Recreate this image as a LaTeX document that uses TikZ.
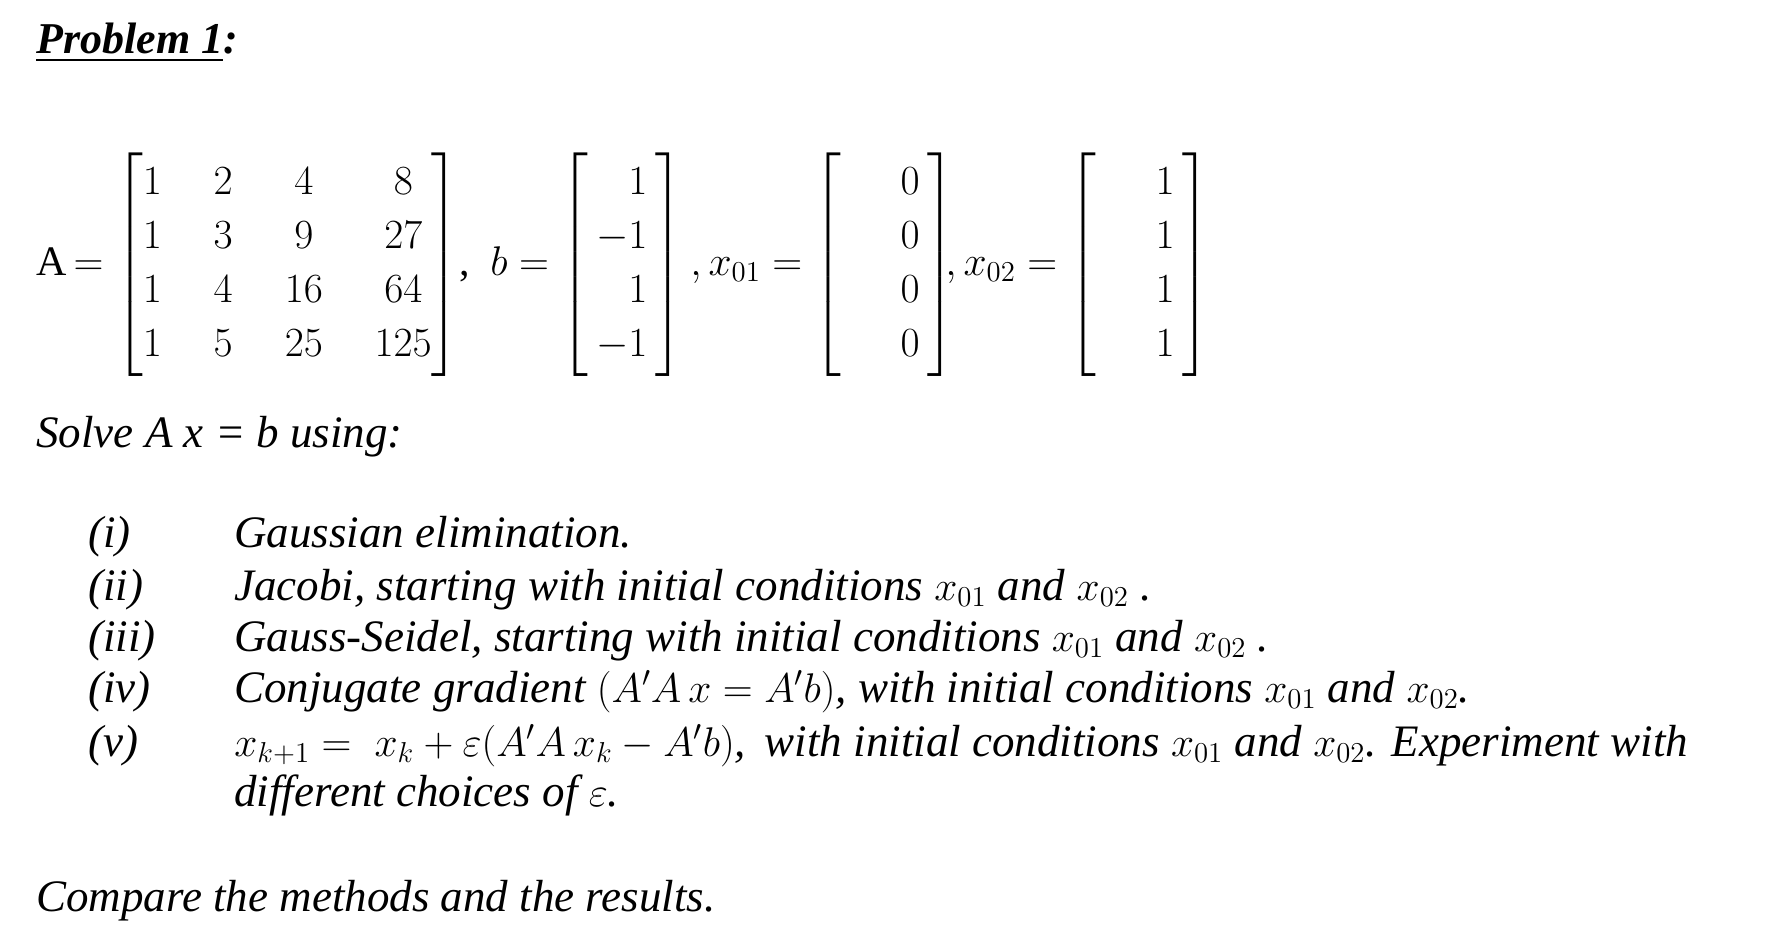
\documentclass[tikz,border=0pt]{standalone}
\usepackage{amsmath}
\usepackage{fontspec}
\setmainfont{Liberation Serif}
\begin{document}
\begin{tikzpicture}[x=0.5pt,y=-0.5pt,
  txt/.style={anchor=base west,inner sep=0pt,font=\fontsize{22.5}{26}\selectfont\itshape},
  mat/.style={anchor=center,inner sep=0pt,font=\fontsize{21}{25}\selectfont}]
\useasboundingbox (0,0) rectangle (1766,942);
\renewcommand\arraystretch{1.08}
\node[txt,font=\fontsize{22}{26}\selectfont\bfseries\itshape] (t) at (36,54) {\underline{Problem 1}:};
\node[mat,anchor=west] (A) at (36,265) {A\,$=\setlength\arraycolsep{13pt}\begin{bmatrix}1&2&4&8\\1&3&9&27\\1&4&16&64\\1&5&25&125\end{bmatrix}$,};
\node[mat,anchor=west] (b) at (490,265) {$b=\setlength\arraycolsep{4pt}\left[\begin{array}{r}1\\-1\\1\\-1\end{array}\right]$};
\node[mat,anchor=west] (x1) at (690,265) {$,x_{01}=\setlength\arraycolsep{4pt}\left[\begin{array}{r}\hphantom{-1}0\\0\\0\\0\end{array}\right]$};
\node[mat,anchor=west] (x2) at (945,265) {$,x_{02}=\setlength\arraycolsep{4pt}\left[\begin{array}{r}\hphantom{-1}1\\1\\1\\1\end{array}\right]$};
\node[txt] (s) at (36,447) {Solve A x = b using:};
\node[txt] (l1) at (88,547) {(i)};
\node[txt] (l2) at (88,600) {(ii)};
\node[txt] (l3) at (88,651) {(iii)};
\node[txt] (l4) at (88,702) {(iv)};
\node[txt] (l5) at (88,756) {(v)};
\node[txt] (i1) at (234,547) {Gaussian elimination.};
\node[txt] (i2) at (234,600) {Jacobi, starting with initial conditions $x_{01}$ and $x_{02}$ .};
\node[txt] (i3) at (234,651) {Gauss-Seidel, starting with initial conditions $x_{01}$ and $x_{02}$ .};
\node[txt] (i4) at (234,702) {Conjugate gradient $(A'A\,x=A'b)$, with initial conditions $x_{01}$ and $x_{02}$.};
\node[txt] (i5) at (234,756) {$x_{k+1}=\;x_k+\varepsilon(A'A\,x_k-A'b)$,\, with initial conditions $x_{01}$ and $x_{02}$. Experiment with};
\node[txt] (i6) at (234,806) {different choices of $\varepsilon$.};
\node[txt] (c) at (36,911) {Compare the methods and the results.};
\end{tikzpicture}
\end{document}
